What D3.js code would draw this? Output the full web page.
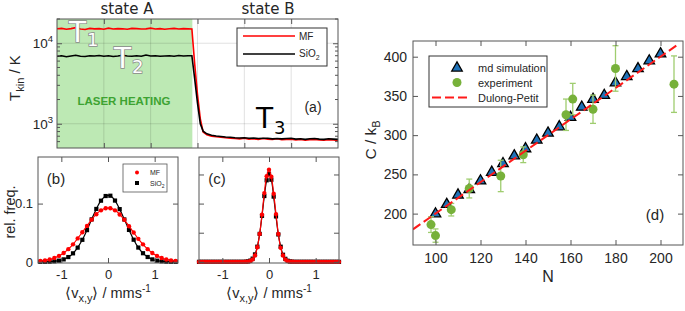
<!DOCTYPE html>
<html><head><meta charset="utf-8">
<script src="https://cdn.jsdelivr.net/npm/d3@7"></script>
<style>
body{margin:0;background:#fff;}
text{font-family:"Liberation Sans",Arial,sans-serif;fill:#262626;}
</style></head>
<body>
<script>
// ---------- DATA ----------
// panel (a): kinetic temperature time series
const tA = [0,0.1,0.2,0.3,0.4,0.5,0.6,0.7,0.8,0.9,1,1.1,1.2,1.3,1.4,1.5,1.6,1.7,1.8,1.9,2,2.1,2.2,2.3,2.4,2.5,2.6,2.7,2.8,
  2.88,2.94,3.0,3.06,3.12,3.2,
  3.3,3.4,3.5,3.6,3.7,3.8,3.9,4,4.1,4.2,4.3,4.4,4.5,4.6,4.7,4.8,4.9,5,5.1,5.2,5.3,5.4,5.5,5.6,5.7,5.8,5.9,6];
const tempMF = [15100,15300,14900,15200,15600,15000,14800,15300,15100,15200,14900,15400,15000,15200,15100,14900,15300,15200,15000,15100,15400,15000,15200,14900,15100,15300,15000,15200,15100,
  15000,5500,2300,1150,790,730,
  700,690,680,670,660,655,650,660,645,650,640,655,645,640,650,635,640,645,630,640,625,635,640,630,625,635,630,620];
const tempSiO2 = [6900,7000,6800,6950,7100,6900,6850,7000,6950,7050,6900,7000,6850,6950,7100,6950,6900,7000,6900,7150,6950,7000,6900,6950,7000,6900,7050,6950,7000,
  7000,3600,1800,1000,810,750,
  720,705,695,685,680,670,665,670,660,665,655,660,660,650,655,650,655,660,645,650,640,650,655,645,640,650,645,640];
const laserEnd = 2.89;
const yTicksA = [1000, 10000];
const yMinorA = [600,700,800,900,2000,3000,4000,5000,6000,7000,8000,9000,20000];

// panel (b): velocity distributions, state A
const bX = [-1.45,-1.35,-1.25,-1.15,-1.05,-0.95,-0.85,-0.75,-0.65,-0.55,-0.45,-0.35,-0.25,-0.15,-0.05,0.05,0.15,0.25,0.35,0.45,0.55,0.65,0.75,0.85,0.95,1.05,1.15,1.25,1.35,1.45];
const bMF = [0.0014,0.0024,0.0041,0.0066,0.0102,0.0152,0.0218,0.0300,0.0402,0.0508,0.0617,0.0724,0.0818,0.0884,0.0920,0.0921,0.0884,0.0814,0.0722,0.0612,0.0503,0.0395,0.0300,0.0218,0.0152,0.0102,0.0066,0.0041,0.0024,0.0014];
const bSiO2 = [0,0.0001,0.0003,0.0009,0.0020,0.0042,0.0082,0.0146,0.0244,0.0378,0.0545,0.0729,0.0908,0.1050,0.1130,0.1135,0.1052,0.0905,0.0728,0.0548,0.0380,0.0245,0.0148,0.0083,0.0042,0.0020,0.0009,0.0003,0.0001,0];

// panel (c): velocity distributions, state B
const cX = [-1.5,-1.45,-1.4,-1.35,-1.3,-1.25,-1.2,-1.15,-1.1,-1.05,-1,-0.95,-0.9,-0.85,-0.8,-0.75,-0.7,-0.65,-0.6,-0.55,
  -0.5,-0.45,-0.4,-0.35,-0.3,-0.25,-0.2,-0.15,-0.1,-0.05,0,0.05,0.1,0.15,0.2,0.25,0.3,0.35,0.4,0.45,0.5,
  0.55,0.6,0.65,0.7,0.75,0.8,0.85,0.9,0.95,1,1.05,1.1,1.15,1.2,1.25,1.3,1.35,1.4,1.45,1.5];
const cMF = [0,0,0,0,0,0,0,0,0,0,0,0,0,0,0,0,0,0,0,0,
  0.0001,0.0004,0.0014,0.0042,0.011,0.025,0.048,0.081,0.118,0.147,0.158,0.146,0.117,0.082,0.048,0.024,0.011,0.0041,0.0013,0.0004,0.0001,
  0,0,0,0,0,0,0,0,0,0,0,0,0,0,0,0,0,0,0,0];
const cSiO2 = [0,0,0,0,0,0,0,0,0,0,0,0,0,0,0,0,0,0,0,0,
  0.0002,0.0007,0.0021,0.0055,0.0128,0.026,0.048,0.079,0.113,0.140,0.151,0.141,0.112,0.078,0.047,0.026,0.0122,0.0052,0.0019,0.0006,0.0002,
  0,0,0,0,0,0,0,0,0,0,0,0,0,0,0,0,0,0,0,0];
const vTicks = [-1, 0, 1];

// panel (d): heat capacity
const simN = [100,105,110,115,120,125,130,135,140,145,150,155,160,165,170,175,180,185,190,195,200];
const simC = [201,213,225,232,243,254,265,275,284,295,304,312,324,337,347,352,368,376,386,396,405];
const expN = [98,100,107,115,129,139,158,161,170,180,206];
const expC = [186,172,205,232,248,275,326,346,333,385,365];
const expErr = [10,8.5,8,12,20,10,20,20,18,29,36];
const dpN = [90, 208];
const dpC = [180, 416];
const nTicks = [100,120,140,160,180,200];
const cTicks = [200,250,300,350,400];

// ---------- DRAW ----------
const svg = d3.select("body").append("svg").attr("width",685).attr("height",311);
const AX = "#555";

function frame(g, x, y, xt, yt, opts){
  opts = opts || {};
  const [x0,x1] = x.range(), [y0,y1] = y.range();
  const fmtX = opts.fmtX || (d=>d), fmtY = opts.fmtY || (d=>d);
  const b = g.append("g").attr("transform",`translate(0,${y0})`)
    .call(d3.axisBottom(x).tickValues(xt).tickSizeInner(-5).tickSizeOuter(0).tickPadding(opts.padX||7).tickFormat(opts.noX?()=>"":fmtX));
  const t = g.append("g").attr("transform",`translate(0,${y1})`)
    .call(d3.axisTop(x).tickValues(xt).tickSizeInner(-5).tickSizeOuter(0).tickFormat(()=>""));
  const l = g.append("g").attr("transform",`translate(${x0},0)`)
    .call(d3.axisLeft(y).tickValues(yt).tickSizeInner(-5).tickSizeOuter(0).tickPadding(opts.padY||6).tickFormat(opts.noY?()=>"":fmtY));
  const r = g.append("g").attr("transform",`translate(${x1},0)`)
    .call(d3.axisRight(y).tickValues(yt).tickSizeInner(-5).tickSizeOuter(0).tickFormat(()=>""));
  [b,t,l,r].forEach(a=>{
    a.select(".domain").remove();
    a.selectAll("line").attr("stroke",AX);
    a.selectAll("text").attr("font-size",opts.fs||13).style("fill","#262626");
  });
  g.append("rect").attr("x",x0).attr("y",y1).attr("width",x1-x0).attr("height",y0-y1)
    .attr("fill","none").attr("stroke",AX).attr("stroke-width",1);
}

// ===== Panel (a) =====
const xA = d3.scaleLinear([0,6],[57,338]);
const yA = d3.scaleLog([500,20000],[148,19]);
const gA = svg.append("g");
gA.append("rect").attr("x",xA(0)).attr("y",yA(20000)).attr("width",xA(laserEnd)-xA(0)).attr("height",yA(500)-yA(20000)).attr("fill","#bde9b4");
// grid
gA.selectAll(".gx").data([1,2,3,4,5]).join("line").attr("x1",d=>xA(d)).attr("x2",d=>xA(d)).attr("y1",yA(500)).attr("y2",yA(20000)).attr("stroke","#000").attr("stroke-opacity",0.12);
gA.selectAll(".gy").data(yTicksA).join("line").attr("x1",xA(0)).attr("x2",xA(6)).attr("y1",d=>yA(d)).attr("y2",d=>yA(d)).attr("stroke","#000").attr("stroke-opacity",0.12);
gA.append("text").attr("x",124).attr("y",105).attr("text-anchor","middle").attr("font-size",11.5).attr("font-weight","bold").style("fill","#3da332").text("LASER HEATING");
const lineA = d3.line().x((d,i)=>xA(tA[i])).y(d=>yA(d));
gA.append("path").datum(tempMF).attr("d",lineA).attr("fill","none").attr("stroke","#ff0000").attr("stroke-width",1.6);
gA.append("path").datum(tempSiO2).attr("d",lineA).attr("fill","none").attr("stroke","#000").attr("stroke-width",1.6);
frame(gA, xA, yA, [1,2,3,4,5], yTicksA, {noX:true, noY:true});
// minor log ticks
gA.selectAll(".ml").data(yMinorA).join("line").attr("x1",xA(0)).attr("x2",xA(0)+3).attr("y1",d=>yA(d)).attr("y2",d=>yA(d)).attr("stroke",AX);
gA.selectAll(".mr").data(yMinorA).join("line").attr("x1",xA(6)).attr("x2",xA(6)-3).attr("y1",d=>yA(d)).attr("y2",d=>yA(d)).attr("stroke",AX);
yTicksA.forEach(v=>{
  const t = gA.append("text").attr("x",53).attr("y",yA(v)+5).attr("text-anchor","end").attr("font-size",13.5);
  t.append("tspan").text("10");
  t.append("tspan").attr("dy",-6).attr("font-size",9.5).text(Math.round(Math.log10(v)));
});
// y label
{
  const t = gA.append("text").attr("transform","translate(20,78) rotate(-90)").attr("text-anchor","middle").attr("font-size",15);
  t.append("tspan").text("T");
  t.append("tspan").attr("dy",4).attr("font-size",11).text("kin");
  t.append("tspan").attr("dy",-4).text(" / K");
}
svg.append("text").attr("x",127).attr("y",14).attr("text-anchor","middle").attr("font-size",15).style("font-family","DejaVu Sans").text("state A");
svg.append("text").attr("x",268).attr("y",14).attr("text-anchor","middle").attr("font-size",15).style("font-family","DejaVu Sans").text("state B");
// T labels
function outlined(x,y,main,sub,fs,sfs,dx,dy){
  const t = svg.append("text").attr("x",x).attr("y",y).attr("font-size",fs).style("font-family","DejaVu Sans")
    .style("fill","#fff").attr("stroke","#8a8a8a").attr("stroke-width",1.5).attr("paint-order","stroke");
  t.append("tspan").text(main);
  t.append("tspan").attr("dx",dx).attr("dy",dy).attr("font-size",sfs).text(sub);
}
outlined(69,42,"T","1",28,18,1,4);
outlined(114,68,"T","2",28,18,1,5);
{
  const t = svg.append("text").attr("x",256).attr("y",128).attr("font-size",28).style("font-family","DejaVu Sans").style("fill","#000");
  t.append("tspan").text("T");
  t.append("tspan").attr("dx",1).attr("dy",6).attr("font-size",18).text("3");
}
svg.append("text").attr("x",313).attr("y",112).attr("text-anchor","middle").attr("font-size",14).text("(a)");
// legend (a)
{
  const g = svg.append("g");
  g.append("rect").attr("x",237).attr("y",28).attr("width",90).attr("height",38).attr("fill","#fff").attr("stroke","#333");
  g.append("line").attr("x1",243).attr("x2",295).attr("y1",36).attr("y2",36).attr("stroke","#ff0000").attr("stroke-width",1.6);
  g.append("line").attr("x1",243).attr("x2",295).attr("y1",54).attr("y2",54).attr("stroke","#000").attr("stroke-width",1.6);
  g.append("text").attr("x",299).attr("y",40).attr("font-size",10).text("MF");
  const t = g.append("text").attr("x",299).attr("y",57).attr("font-size",10);
  t.append("tspan").text("SiO");
  t.append("tspan").attr("dy",3).attr("font-size",7).text("2");
}

// ===== Panels (b) and (c) =====
function velPanel(x0,x1,xs,mf,si,opts){
  const x = d3.scaleLinear([-1.5,1.5],[x0,x1]);
  const y = d3.scaleLinear([-0.002,0.18],[263,157]);
  const g = svg.append("g");
  const ln = arr => d3.line().curve(d3.curveCatmullRom).x((d,i)=>x(xs[i])).y(d=>y(d))(arr);
  g.append("path").attr("d",ln(si)).attr("fill","none").attr("stroke","#000").attr("stroke-width",1.2);
  g.selectAll(".sq").data(si).join("rect").attr("x",(d,i)=>x(xs[i])-2.1).attr("y",d=>y(d)-2.1).attr("width",4.2).attr("height",4.2).attr("fill","#000");
  g.append("path").attr("d",ln(mf)).attr("fill","none").attr("stroke","#ff0000").attr("stroke-width",1.2);
  g.selectAll(".dt").data(mf).join("circle").attr("cx",(d,i)=>x(xs[i])).attr("cy",d=>y(d)).attr("r",2.2).attr("fill","#ff0000");
  frame(g, x, y, vTicks, opts.yt, {noY:opts.noY, padX:7, padY:5, fmtX:d=>d===0?"0":(d<0?"-":"")+Math.abs(d), fmtY:d=>d===0?"0":d});
  const t = g.append("text").attr("x",(x0+x1)/2).attr("y",298).attr("text-anchor","middle").attr("font-size",14.5);
  t.append("tspan").text("\u27E8v");
  t.append("tspan").attr("dy",4).attr("font-size",11).text("x,y");
  t.append("tspan").attr("dy",-4).text("\u27E9 / mms");
  t.append("tspan").attr("dy",-6).attr("font-size",10).text("-1");
  g.append("text").attr("x",x0+18).attr("y",184).attr("text-anchor","middle").attr("font-size",15).text(opts.label);
  return g;
}
velPanel(38,178,bX,bMF,bSiO2,{yt:[0,0.1],label:"(b)"});
velPanel(199,339,cX,cMF,cSiO2,{yt:[0,0.05,0.1,0.15],noY:true,label:"(c)"});
svg.append("text").attr("transform","translate(15,212) rotate(-90)").attr("text-anchor","middle").attr("font-size",14.5).text("rel. freq.");
// legend (b)
{
  const g = svg.append("g");
  g.append("rect").attr("x",123).attr("y",164).attr("width",44).attr("height",28).attr("fill","#fff").attr("stroke","#555").attr("stroke-width",0.8);
  g.append("circle").attr("cx",137).attr("cy",172.5).attr("r",2).attr("fill","#ff0000");
  g.append("rect").attr("x",135).attr("y",181).attr("width",4).attr("height",4).attr("fill","#000");
  g.append("text").attr("x",150).attr("y",175).attr("font-size",7).text("MF");
  const t = g.append("text").attr("x",150).attr("y",185.5).attr("font-size",7);
  t.append("tspan").text("SiO");
  t.append("tspan").attr("dy",2).attr("font-size",5).text("2");
}

// ===== Panel (d) =====
const xD = d3.scaleLinear([90,210],[413,683]);
const yD = d3.scaleLinear([160,420],[245,41]);
const gD = svg.append("g");
gD.append("clipPath").attr("id","clipD").append("rect").attr("x",413).attr("y",41).attr("width",270).attr("height",204);
const tri = d3.symbol().type(d3.symbolTriangle).size(48);
gD.selectAll(".tr").data(simC).join("path").attr("d",tri)
  .attr("transform",(d,i)=>`translate(${xD(simN[i])},${yD(d)+1})`)
  .attr("fill","#1f72b8").attr("stroke","#000").attr("stroke-width",1.3);
const eg = gD.append("g");
expC.forEach((c,i)=>{
  const xx = xD(expN[i]);
  eg.append("line").attr("x1",xx).attr("x2",xx).attr("y1",yD(c-expErr[i])).attr("y2",yD(c+expErr[i])).attr("stroke","#9fcd6f").attr("stroke-width",1.3);
  [c-expErr[i], c+expErr[i]].forEach(v=>eg.append("line").attr("x1",xx-3).attr("x2",xx+3).attr("y1",yD(v)).attr("y2",yD(v)).attr("stroke","#9fcd6f").attr("stroke-width",1.3));
});
gD.selectAll(".ex").data(expC).join("circle").attr("cx",(d,i)=>xD(expN[i])).attr("cy",d=>yD(d)).attr("r",4.5).attr("fill","#77b13a");
gD.append("path").datum(dpC).attr("clip-path","url(#clipD)")
  .attr("d",d3.line().x((d,i)=>xD(dpN[i])).y(d=>yD(d)))
  .attr("fill","none").attr("stroke","#ff1a1a").attr("stroke-width",2).attr("stroke-dasharray","9,4");
frame(gD, xD, yD, nTicks, cTicks, {padX:8, padY:6, fs:14});
svg.append("text").attr("x",548).attr("y",282).attr("text-anchor","middle").attr("font-size",16).text("N");
{
  const t = svg.append("text").attr("transform","translate(376,140) rotate(-90)").attr("text-anchor","middle").attr("font-size",15.5);
  t.append("tspan").text("C / k");
  t.append("tspan").attr("dy",4).attr("font-size",11).text("B");
}
svg.append("text").attr("x",655).attr("y",220).attr("text-anchor","middle").attr("font-size",15).text("(d)");
// legend (d)
{
  const g = svg.append("g");
  g.append("rect").attr("x",429).attr("y",56).attr("width",118).attr("height",51).attr("fill","#fff").attr("stroke","#333");
  g.append("path").attr("d",tri).attr("transform","translate(457,68)").attr("fill","#1f72b8").attr("stroke","#000").attr("stroke-width",1.3);
  g.append("circle").attr("cx",457).attr("cy",82.5).attr("r",4.5).attr("fill","#77b13a");
  g.append("line").attr("x1",432).attr("x2",467).attr("y1",97.5).attr("y2",97.5).attr("stroke","#ff1a1a").attr("stroke-width",2).attr("stroke-dasharray","9,4");
  [["md simulation",67.5],["experiment",82.5],["Dulong-Petit",97.5]].forEach(([s,yy])=>
    g.append("text").attr("x",478).attr("y",yy+4).attr("font-size",11).text(s));
}
</script>
</body></html>
